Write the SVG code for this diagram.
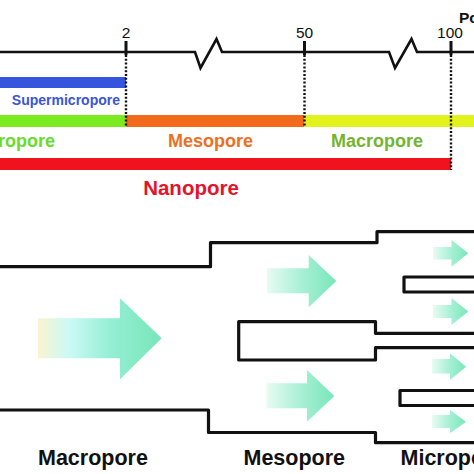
<svg xmlns="http://www.w3.org/2000/svg" width="474" height="474" viewBox="0 0 474 474">
<defs>
<style>
text{font-family:"Liberation Sans",Arial,sans-serif}
.b{font-weight:bold}
.tick{font-size:15.5px;fill:#111;text-anchor:middle}
.ax{fill:none;stroke:#111;stroke-width:2.6;stroke-linejoin:miter}
.tk{stroke:#111;stroke-width:3}
.dot{stroke:#111;stroke-width:2.4;stroke-dasharray:2 1.8}
.pore{fill:none;stroke:#111;stroke-width:3.2;stroke-linejoin:round}
.lbl{font-size:21.5px;font-weight:bold;fill:#111}
</style>
<linearGradient id="gBig" x1="0" y1="0" x2="1" y2="0">
<stop offset="0" stop-color="#FAF4CF"/>
<stop offset="0.25" stop-color="#CBFAF6"/>
<stop offset="0.6" stop-color="#93EED2"/>
<stop offset="1" stop-color="#78E6B9"/>
</linearGradient>
<linearGradient id="gSm" x1="0" y1="0" x2="1" y2="0">
<stop offset="0" stop-color="#E8FBF2"/>
<stop offset="0.5" stop-color="#A8F0D6"/>
<stop offset="1" stop-color="#78E6B9"/>
</linearGradient>
</defs>

<g id="axis">
<path class="ax" d="M0,52 H195 L200.5,68 L216.5,39 L222,52 H389 L395,68 L411.5,39 L417,52 H474"/>
<line class="tk" x1="126" y1="41" x2="126" y2="55"/>
<line class="tk" x1="304.5" y1="41" x2="304.5" y2="55"/>
<line class="tk" x1="451" y1="41" x2="451" y2="55"/>
<text class="tick" x="126" y="37.5">2</text>
<text class="tick" x="304.5" y="37.5">50</text>
<text class="tick" x="450" y="37.5">100</text>
<text class="b" x="459" y="23" font-size="15.5" fill="#111">Pore size (nm)</text>
</g>

<g id="bars">
<rect x="0" y="77" width="126" height="11" fill="#3556DC"/>
<rect x="0" y="115" width="126" height="12" fill="#7BEA1E"/>
<rect x="126" y="115" width="178.5" height="12" fill="#F26A1B"/>
<rect x="304.5" y="115" width="169.5" height="12" fill="#E2F21C"/>
<rect x="0" y="158" width="451" height="12" fill="#F0121C"/>
<line class="dot" x1="126" y1="55" x2="126" y2="127"/>
<line class="dot" x1="304.5" y1="55" x2="304.5" y2="127"/>
<line class="dot" x1="451" y1="55" x2="451" y2="170"/>
</g>

<g id="range-labels">
<text class="b" x="120" y="105" font-size="14" fill="#3A55D6" text-anchor="end">Supermicropore</text>
<text class="b" x="55" y="147" font-size="18" fill="#6BDB2A" text-anchor="end">Micropore</text>
<text class="b" x="210.5" y="147" font-size="18" fill="#EE6F22" text-anchor="middle">Mesopore</text>
<text class="b" x="377" y="147" font-size="18" fill="#73B52E" text-anchor="middle">Macropore</text>
<text class="b" x="191" y="195" font-size="20.5" fill="#E5132B" text-anchor="middle">Nanopore</text>
</g>

<g id="pore-walls">
<path class="pore" d="M0,266.7 H210.5 V242.7 H377 V231.7 H476"/>
<path class="pore" d="M0,410 H208.5 V432.5 H375.5 V442.7 H476"/>
<path class="pore" d="M476,333.3 H375.5 V321.7 H238.7 V360 H375.5 V347.7 H476"/>
<path class="pore" d="M476,277 H404 V292 H476"/>
<path class="pore" d="M476,390.5 H400 V405.5 H476"/>
</g>

<g id="flow-arrows">
<polygon fill="url(#gBig)" points="38,318.3 120,318.3 120,298.3 161.7,338.3 120,379.3 120,358.3 38,358.3"/>
<polygon fill="url(#gSm)" points="267,268.3 308.7,268.3 308.7,255 336.3,281 308.7,307.3 308.7,293.3 267,293.3"/>
<polygon fill="url(#gSm)" points="266.3,383.3 307,383.3 307,370 334.3,396 307,421.7 307,408.3 266.3,408.3"/>
<polygon fill="url(#gSm)" points="433,247 451.5,247 451.5,240 468.3,253.3 451.5,266.7 451.5,259.5 433,259.5"/>
<polygon fill="url(#gSm)" points="433,305 451.5,305 451.5,298 468.3,311.5 451.5,325 451.5,318 433,318"/>
<polygon fill="url(#gSm)" points="432,359 450,359 450,353.3 466,366.7 450,380 450,373.5 432,373.5"/>
<polygon fill="url(#gSm)" points="432,415 450,415 450,410 466,421.7 450,433.3 450,428 432,428"/>
</g>

<g id="scale-labels">
<text class="lbl" x="38" y="465">Macropore</text>
<text class="lbl" x="243.5" y="465">Mesopore</text>
<text class="lbl" x="400.5" y="465">Micropore</text>
</g>
</svg>
